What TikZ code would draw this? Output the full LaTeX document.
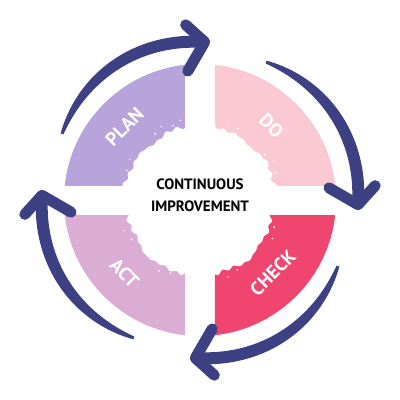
\documentclass[tikz,border=0pt]{standalone}
\usepackage{fontspec}
\setmainfont{PT Sans}
\usetikzlibrary{calc}
\definecolor{planfill}{RGB}{185,163,219}
\definecolor{dofill}{RGB}{250,201,212}
\definecolor{actfill}{RGB}{219,173,212}
\definecolor{checkfill}{RGB}{239,69,110}
\definecolor{cycline}{RGB}{62,64,132}

\begin{document}
\begin{tikzpicture}[x=1pt, y=1pt,
  phase/.style={text=white, font=\bfseries\fontsize{19}{19}\selectfont, inner sep=0pt},
  hub/.style={align=center, font=\bfseries\fontsize{15}{22.5}\selectfont, inner sep=0pt},
  head/.style={draw=cycline, line width=11pt, line cap=round, line join=round}
]
\useasboundingbox (-200,-200) rectangle (200,200);

% ---- quadrants
\foreach \col/\sx/\sy in {planfill/-1/1, dofill/1/1, checkfill/1/-1, actfill/-1/-1} {
  \begin{scope}
    \clip (15*\sx,15*\sy) rectangle (200*\sx,200*\sy);
    \fill[\col] (0,0) circle (136);
  \end{scope}
}

% ---- ragged hub
\fill[white] plot[domain=0:360, samples=300]
  (\x:{75+1.5*sin(5*\x)+1.2*sin(13*\x+40)+1.2*sin(41*\x+10)+0.8*sin(37*\x+20)}) -- cycle;
\foreach \a/\r/\s in {100/80/1.2, 104/82/0.8, 110/79/1, 118/83/0.8, 124/80/1.1, 150/81/0.8,
                      158/79/1, 20/80/1, 28/83/0.8, 35/79/1.1, 62/81/0.9, 70/84/0.7,
                      -20/79/1, -28/82/0.8, -62/79/1, -70/82/0.8, -112/79/1, -120/82/0.8,
                      -150/79/1, -158/82/0.8}
  \fill[white] (\a:\r) circle (\s);

% ---- labels
\node[phase, rotate=45]  (plan)  at (136:105) {PLAN};
\node[phase, rotate=-45] (do)    at (46:103)  {DO};
\node[phase, rotate=45]  (check) at (-45:103) {CHECK};
\node[phase, rotate=-45] (act)   at (-136:105) {ACT};
\node[hub] (hub) at (0,5) {CONTINUOUS\\IMPROVEMENT};

% ---- cycle arrows
\foreach \k in {0,1,2,3} {
  \begin{scope}[rotate=-90*\k]
    \fill[cycline]
      plot[domain=0:1, samples=50]
        ({154.4-65.9*\x}:{153+5*\x+4*sin(180*\x)+(12-9*(1-\x)^3)/2})
      -- plot[domain=1:0, samples=50]
        ({154.4-65.9*\x}:{153+5*\x+4*sin(180*\x)-(12-9*(1-\x)^3)/2}) -- cycle;
    \begin{scope}[shift={(86.5:158)}, rotate=-3.5]
      \coordinate (tip\k) at (-5,0);
      \draw[head] (-25,16) -- (tip\k) -- (-20,-30);
    \end{scope}
  \end{scope}
}
\end{tikzpicture}
\end{document}
